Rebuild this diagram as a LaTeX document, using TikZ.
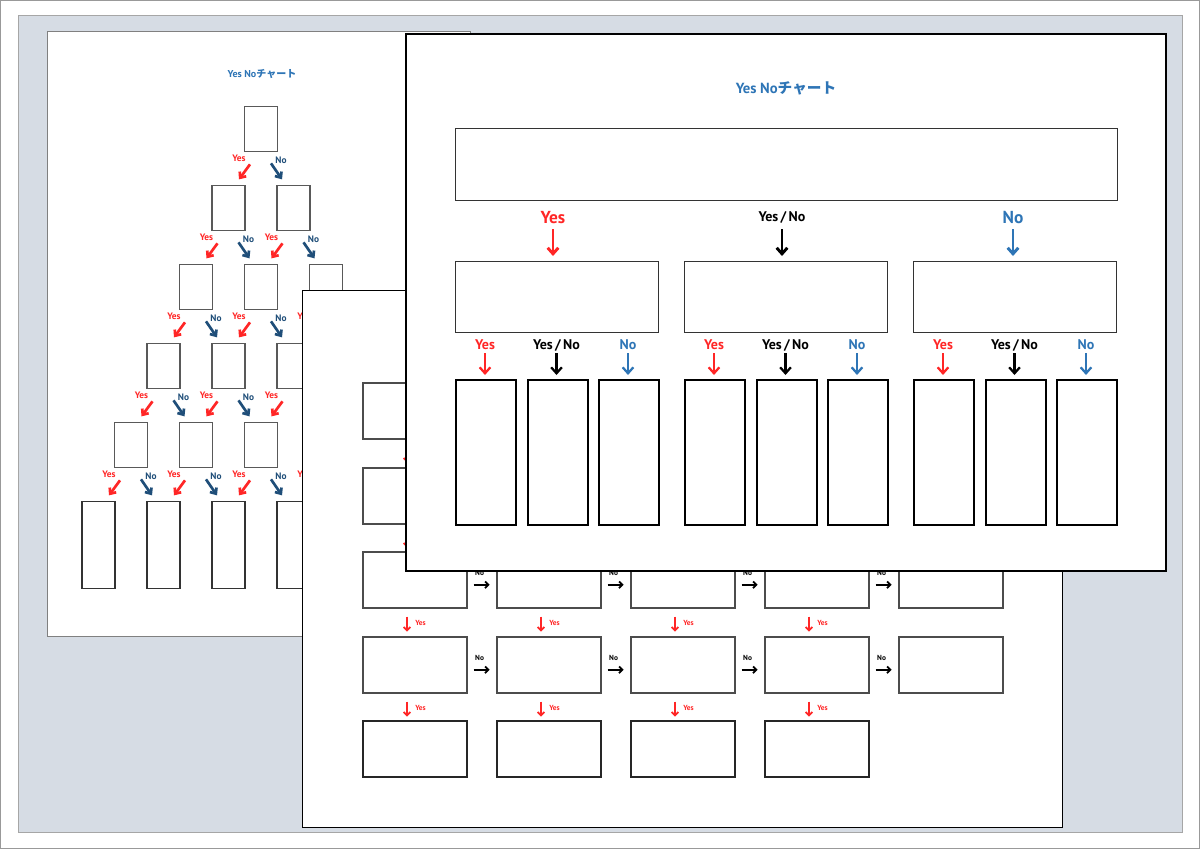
\documentclass[tikz,border=0pt]{standalone}
\usepackage{fontspec}
\setmainfont{PT Sans}
\newfontfamily\cjk{Noto Sans CJK JP}
\usetikzlibrary{arrows.meta,calc}
\definecolor{bgc}{HTML}{D6DCE4}
\definecolor{yred}{HTML}{FF2626}
\definecolor{ndark}{HTML}{1F4E79}
\definecolor{nblue}{HTML}{2E75B6}
\begin{document}
\begin{tikzpicture}[x=0.75pt,y=-0.75pt,
  page/.style={draw=#1,fill=white},
  lbox/.style={draw=black!65,line width=1pt,fill=white,minimum width=24.75pt,minimum height=33.75pt,inner sep=0,anchor=north},
  ltall/.style={lbox,minimum height=65pt,draw=black!80},
  larr/.style={line width=2pt,-{Straight Barb[length=3.5pt,width=6pt]}},
  lyes/.style={text=yred,font=\bfseries\fontsize{7}{7}\selectfont,inner sep=0},
  lno/.style={text=ndark,font=\bfseries\fontsize{7}{7}\selectfont,inner sep=0},
  mbox/.style={draw=black!70,line width=1.2pt,fill=white,minimum width=78pt,minimum height=42pt,inner sep=0,anchor=north west},
  marr/.style={line width=1.3pt,-{Straight Barb[length=2.5pt,width=5pt]}},
  mtxt/.style={font=\bfseries\fontsize{5.5}{5.5}\selectfont,inner sep=0},
  tbox/.style={draw=black!80,line width=1pt,fill=white,inner sep=0,anchor=north west},
  tall/.style={draw=black,line width=1.6pt,fill=white,inner sep=0,anchor=north west,minimum width=45pt,minimum height=109pt},
  tarr/.style={line width=2.2pt,-{Straight Barb[length=4.5pt,width=8pt]}},
  bigl/.style={font=\bfseries\fontsize{13}{13}\selectfont,inner sep=0},
  smll/.style={font=\bfseries\fontsize{10.5}{10.5}\selectfont,inner sep=0}
]
\useasboundingbox (0,0) rectangle (1200,849);
\fill[white] (0,0) rectangle (1200,849);
\draw[black!35,fill=bgc] (18,15) rectangle (1182,832);
\draw[black!40,line width=0.6pt] (0.5,0.5) rectangle (1199.5,848.5);

% ---------- left page ----------
\node[page=black!50,minimum width=317pt,minimum height=453.75pt,inner sep=0,anchor=north west] (LP) at (47,31) {};
\node[text=nblue,font=\bfseries\fontsize{7.5}{7.5}\selectfont] (LT) at (262,74) {Yes No{\cjk チャート}};
\foreach \k in {1,...,5}{
  \pgfmathtruncatemacro{\n}{\k-1}
  \foreach \i in {0,...,\n}{
    \pgfmathsetmacro{\cx}{261-32.5*(\k-1)+65*\i}
    \pgfmathsetmacro{\ty}{106+79*(\k-1)}
    \node[lbox] (L-\k-\i) at (\cx,\ty) {};
    \node[lyes] (LY-\k-\i) at ($(L-\k-\i.south)+(-22,6)$) {Yes};
    \node[lno] (LN-\k-\i) at ($(L-\k-\i.south)+(20,8)$) {No};
    \draw[larr,yred] ($(L-\k-\i.south)+(-11,12)$) coordinate (ya-\k-\i) -- ($(L-\k-\i.south)+(-22,27)$) coordinate (yb-\k-\i);
    \draw[larr,ndark] ($(L-\k-\i.south)+(10,11)$) coordinate (na-\k-\i) -- ($(L-\k-\i.south)+(21,27)$) coordinate (nb-\k-\i);
  }
}
\foreach \i in {0,...,5}{
  \node[ltall] (L-6-\i) at (98.5+65*\i,501) {};
}

% ---------- middle page ----------
\node[page=black,line width=0.9pt,minimum width=570pt,minimum height=402.75pt,inner sep=0,anchor=north west] (MP) at (302,290) {};
\foreach \r/\ty in {1/382,2/467,3/551,4/636}{
  \foreach \c/\lx in {1/362,2/496,3/630,4/764,5/898}{
    \node[mbox] (M-\r-\c) at (\lx,\ty) {};
  }
}
\foreach \c/\lx in {1/362,2/496,3/630,4/764}{
  \node[mbox,line width=1.5pt,draw=black!85] (M-5-\c) at (\lx,720) {};
}
\foreach \r in {1,...,4}{
  \foreach \c/\d in {1/2,2/3,3/4,4/5}{
    \draw[marr] ($(M-\r-\c.east)+(6,5)$) coordinate (mh-\r-\c) -- ($(M-\r-\c.east)+(22,5)$) coordinate (mh2-\r-\c);
    \node[mtxt] (MN-\r-\c) at ($(M-\r-\c.east)+(12,-7)$) {No};
  }
  \foreach \c in {1,...,4}{
    \draw[marr,yred] ($(M-\r-\c.south west)+(45,8)$) coordinate (mv-\r-\c) -- ($(M-\r-\c.south west)+(45,23)$) coordinate (mv2-\r-\c);
    \node[mtxt,text=yred,anchor=west] (MY-\r-\c) at ($(M-\r-\c.south west)+(53,14)$) {Yes};
  }
}

% ---------- top page ----------
\node[page=black,line width=1.3pt,minimum width=570pt,minimum height=402.75pt,inner sep=0,anchor=north west] (TP) at (405,33) {};
\node[text=nblue,font=\bfseries\fontsize{11}{11}\selectfont] (TT) at (786,88) {Yes No{\cjk チャート}};
\node[tbox,minimum width=496.5pt,minimum height=54pt] (B0) at (455,128) {};
\foreach \j/\lx in {1/455,2/684,3/913}{
  \node[tbox,minimum width=152pt,minimum height=53pt] (B\j) at (\lx,261) {};
}
\node[bigl,text=yred] (BY) at (553,218) {Yes};
\node[smll,text=black] (BYN) at (782,217) {Yes\,/\,No};
\node[bigl,text=nblue] (BN) at (1013,218) {No};
\draw[tarr,yred] (553,229) coordinate (ta1) -- (553,256) coordinate (tb1);
\draw[tarr,black] (782,229) coordinate (ta2) -- (782,256) coordinate (tb2);
\draw[tarr,nblue] (1013,229) coordinate (ta3) -- (1013,256) coordinate (tb3);
\foreach \j/\lx in {1/455,2/684,3/913}{
  \foreach \s/\off/\col/\txt in {1/0/yred/Yes,2/71.5/black/{Yes\,/\,No},3/143/nblue/No}{
    \node[tall] (T-\j-\s) at (\lx+\off,379) {};
    \node[smll,text=\col] (TL-\j-\s) at (\lx+\off+30,345) {\txt};
    \draw[tarr,line width=1.7pt,\col] (\lx+\off+30,353) coordinate (tc-\j-\s) -- (\lx+\off+30,375) coordinate (td-\j-\s);
  }
}
\end{tikzpicture}
\end{document}
